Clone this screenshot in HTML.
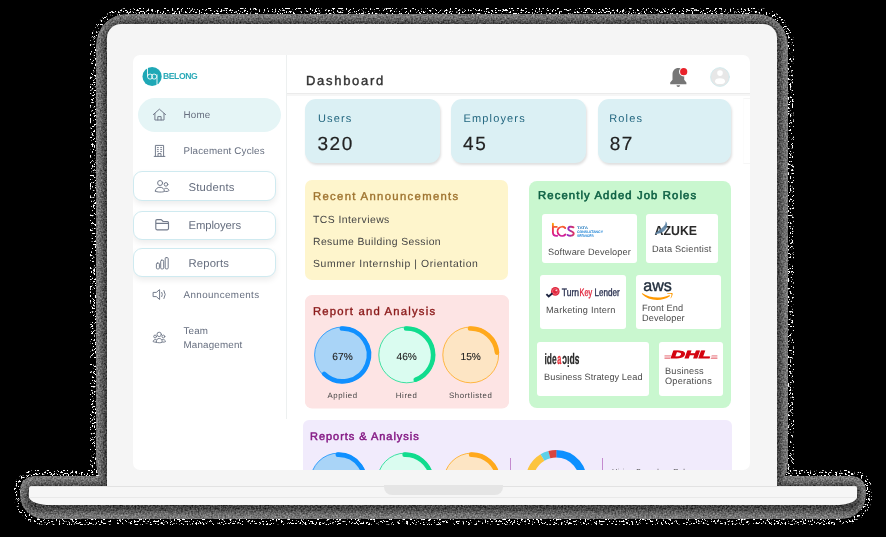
<!DOCTYPE html>
<html><head><meta charset="utf-8">
<style>
*{box-sizing:border-box;margin:0;padding:0}
html,body{width:886px;height:537px;background:#000;overflow:hidden;font-family:"Liberation Sans",sans-serif;}
.abs{position:absolute}
#stage{position:relative;width:886px;height:537px;overflow:hidden;background:#000}
#ringBody{left:90px;top:8px;width:704px;height:492px;border-radius:37px;border:6px solid #fff;filter:url(#spk)}
#ringBase{left:14px;top:470px;width:858px;height:55px;border-radius:20px 20px 30px 30px;border:6px solid #fff;filter:url(#spk)}
#body{left:107px;top:24px;width:670px;height:463px;border-radius:14px 14px 0 0;background:#f5f5f5}
#base{left:29px;top:485.5px;width:828px;height:19.3px;background:#f6f6f6;border-radius:2px 2px 22px 22px / 2px 2px 8px 8px;border-top:1px solid #e2e2e2}
#baseLine{left:29px;top:497px;width:828px;height:1px;background:#e9e9e9}
#notch{left:383.5px;top:485px;width:119px;height:10px;background:#e5e5e5;border-radius:0 0 8px 8px}
#screen{left:133px;top:55px;width:617px;height:415px;border-radius:7px;background:#fff;overflow:hidden}
/* inside screen coords: subtract 133,55 */
.t{position:absolute;white-space:nowrap;line-height:1;margin-top:.7px}

#pg{position:absolute;left:-133px;top:-55px;width:886px;height:537px;will-change:transform;text-rendering:geometricPrecision}

.side{font-size:9.8px;letter-spacing:.18px;color:#666e7f}
.nb{position:absolute;left:133px;width:143px;height:29px;border:1px solid #cfeaf0;border-radius:9px;background:#fff;box-shadow:0 3px 6px rgba(0,0,0,.08)}
.stat{position:absolute;top:99px;height:64px;border-radius:11px;background:#dbf0f4;box-shadow:1px 2px 2.5px rgba(0,0,0,.13)}
.stat .l{margin-top:0;position:absolute;left:12.5px;top:15px;font-size:11px;letter-spacing:1.15px;color:#22667f;line-height:1}
.stat .n{margin-top:.3px;position:absolute;left:12px;top:36px;font-size:19px;letter-spacing:1.6px;color:#222;line-height:1;-webkit-text-stroke:.2px #222}
.h{font-size:11.3px;letter-spacing:1.33px;-webkit-text-stroke:.38px currentColor}
.it{font-size:10.4px;letter-spacing:.45px;color:#444}
.jc{position:absolute;background:#fff;border-radius:3px}
.jt{margin-top:-.1px;font-size:9.2px;letter-spacing:.2px;color:#4a4a4a;line-height:10px}
.pc{font-size:10.2px;color:#222;-webkit-text-stroke:.1px #222}
.pl{margin-top:.15px;font-size:7.8px;letter-spacing:.6px;color:#444}
</style></head><body>
<div id="stage">
<svg width="0" height="0" style="position:absolute"><defs>
<filter id="spk" x="0" y="0" width="100%" height="100%" color-interpolation-filters="sRGB"><feTurbulence type="fractalNoise" baseFrequency="0.55" numOctaves="2" seed="7" result="n"/><feColorMatrix in="n" type="matrix" values="0 0 0 0 1  0 0 0 0 1  0 0 0 0 1  0 0 0 14 -8.2" result="t"/><feComposite in="t" in2="SourceGraphic" operator="in"/></filter>
<filter id="grn" x="0" y="0" width="100%" height="100%" color-interpolation-filters="sRGB"><feTurbulence type="fractalNoise" baseFrequency="0.6" numOctaves="2" seed="11" result="n"/><feColorMatrix in="n" type="matrix" values="0 0 0 1 0  0 0 0 1 0  0 0 0 1 0  0 0 0 0 1" result="g"/><feComposite in="SourceGraphic" in2="g" operator="arithmetic" k1="0" k2="1" k3=".55" k4="-.275" result="m"/><feComposite in="m" in2="SourceGraphic" operator="in"/></filter>
</defs></svg>

<div id="ringBody" class="abs"></div>
<div id="ringBase" class="abs"></div>
<svg class="abs" style="left:0;top:0" width="886" height="537" viewBox="0 0 886 537">
<defs><clipPath id="cu"><rect x="96" y="14" width="692" height="480" rx="31"/><path d="M34 476H852A14 14 0 0 1 866 490V495A24 24 0 0 1 842 519H44A24 24 0 0 1 20 495V490A14 14 0 0 1 34 476Z"/></clipPath>
<filter id="bl" x="-5%" y="-5%" width="110%" height="110%"><feGaussianBlur stdDeviation="3"/></filter></defs>
<g filter="url(#grn)"><g clip-path="url(#cu)"><rect x="0" y="0" width="886" height="537" fill="#7c7c7c"/><g filter="url(#bl)" fill="#3e3e3e"><rect x="102" y="20" width="680" height="474" rx="22"/><rect x="25" y="483" width="836" height="29" rx="10"/></g></g></g>
</svg>
<div id="body" class="abs"></div>
<div id="base" class="abs"></div>
<div id="baseLine" class="abs"></div>
<div id="notch" class="abs"></div>
<div id="screen" class="abs">

<div id="pg">
<!-- sidebar border and header border -->
<div class="abs" style="left:286px;top:55px;width:1px;height:364px;background:#edf0f0"></div>
<div class="abs" style="left:287px;top:93px;width:463px;height:1px;background:#ebebeb"></div>
<div class="abs" style="left:287px;top:94px;width:463px;height:2px;background:#f6f6f6"></div>
<div class="abs" style="left:743px;top:98px;width:8px;height:66px;border:1px solid #f6f6f6;border-left-color:#fcfcfc;border-right:0"></div>
<!-- logo -->
<svg class="abs" style="left:142px;top:66px" width="22" height="22" viewBox="0 0 22 22"><circle cx="10.1" cy="10.5" r="9.6" fill="#1fa8b6"/><g fill="none" stroke="#fff" stroke-width=".9" stroke-opacity=".95"><path d="M5.5 1.8V10.6"/><circle cx="8.1" cy="10.6" r="2.55"/><circle cx="12.1" cy="10.6" r="2.55"/><path d="M15 8.4V19"/></g></svg>
<div class="t" style="margin-top:0;left:163px;top:72.4px;font-size:8.6px;font-weight:bold;color:#2aa9b7;letter-spacing:-.42px">BELONG</div>
<!-- home pill -->
<div class="abs" style="left:138px;top:98px;width:143px;height:34px;border-radius:17px;background:#e5f5f6"></div>
<div class="t side" style="left:183.5px;top:110.6px">Home</div>
<div class="t side" style="left:183.5px;top:146.6px">Placement Cycles</div>
<div class="nb" style="top:171px;height:29.6px"></div>
<div class="nb" style="top:211px"></div>
<div class="nb" style="top:248px"></div>
<div class="t side" style="left:188.5px;top:182px;font-size:11.3px;letter-spacing:.2px">Students</div>
<div class="t side" style="left:188.5px;top:220px;font-size:11.3px;letter-spacing:-.1px">Employers</div>
<div class="t side" style="left:188.5px;top:258px;font-size:11.3px;letter-spacing:.15px">Reports</div>
<div class="t side" style="left:183.5px;top:290.8px;letter-spacing:.4px">Announcements</div>
<div class="t side" style="left:183.5px;top:324.5px;line-height:14.3px">Team<br>Management</div>

<svg class="abs" style="left:0;top:0" width="886" height="537" viewBox="0 0 886 537" fill="none" stroke="#737b8b" stroke-width="1" stroke-linecap="round" stroke-linejoin="round">
<!-- home -->
<path d="M153.3 114.6L159.4 109.2L165.6 114.6M154.9 113.4V120H164V113.4M157.8 120V116.6H161.1V120"/>
<!-- building -->
<path d="M155.4 156.4V145.4H163.6V156.4M154.2 156.4H164.9M158 156.4V153.6H161V156.4" />
<path d="M157.3 147.6H158.4M160.6 147.6H161.7M157.3 149.6H158.4M160.6 149.6H161.7M157.3 151.6H158.4M160.6 151.6H161.7" stroke-width=".9"/>
<!-- students -->
<circle cx="160.1" cy="183" r="2.5"/><path d="M155.4 191.2C155.4 188.8 157.4 187.3 160 187.3C162.5 187.3 164.3 188.8 164.3 191.2C164.3 192.4 155.4 192.4 155.4 191.2Z"/>
<circle cx="166" cy="184.4" r="1.8"/><path d="M164.6 188.7C165.1 188.4 165.6 188.3 166.2 188.3C167.8 188.3 168.8 189.4 168.8 190.7C168.8 191.5 166 191.6 164.6 191.4"/>
<!-- folder -->
<path d="M155.8 228.6V220.8Q155.8 219.6 157 219.6H161.2L163.2 221.5H167.4Q168.5 221.5 168.5 222.7V228.6Q168.5 229.8 167.3 229.8H157Q155.8 229.8 155.8 228.6ZM155.8 223.3H168.5" stroke-width="1.15"/>
<!-- bars -->
<rect x="156.4" y="263.1" width="3" height="5.8" rx="1"/><rect x="160.7" y="260.2" width="3" height="8.7" rx="1"/><rect x="165.2" y="257.6" width="3" height="11.3" rx="1"/>
<!-- speaker -->
<path d="M153.5 292.4H156.3L159.6 289.6V299.5L156.3 296.6H153.5Z"/><path d="M161.8 292.4Q163 294.5 161.8 296.6M164 290.6Q166.6 294.5 164 298.5" stroke-width="1"/>
<!-- team -->
<g stroke-width=".95"><circle cx="159.2" cy="334.4" r="2.2"/><circle cx="155.1" cy="336.5" r="1.4"/><circle cx="163.4" cy="336.5" r="1.4"/>
<path d="M156.3 342.2C156.3 339.6 157.6 338.4 159.2 338.4C160.9 338.4 162.2 339.6 162.2 342.2C161 343 157.5 343 156.3 342.2Z"/>
<path d="M156.2 339.6C154.4 339.3 153.1 340.2 153.1 341.6C153.8 342 154.8 342.2 155.8 342.2M162.3 339.6C164.1 339.3 165.5 340.2 165.5 341.6C164.8 342 163.8 342.2 162.8 342.2"/></g>

<!-- bell -->
<g stroke="none">
<path d="M678.3 68.1C675 68.1 672.5 70.8 672.5 74.5V79.8L670.2 82.6V84.2H686.4V82.6L684.2 79.8V74.5C684.2 70.8 681.6 68.1 678.3 68.1Z" fill="#767676"/>
<path d="M676.5 85.3H680.1A1.8 1.8 0 0 1 676.5 85.3Z" fill="#767676"/>
<circle cx="683.7" cy="71.7" r="4.7" fill="#fff"/>
<circle cx="683.7" cy="71.7" r="3.6" fill="#e8222a"/>
<circle cx="720" cy="77" r="9.4" fill="#e7e7e7" stroke="#cdeaee" stroke-width=".8"/>
<circle cx="720" cy="73.1" r="2.8" fill="#fff"/>
<ellipse cx="720" cy="81.2" rx="5" ry="2.9" fill="#fff"/>
</g>
</svg>

<!-- header -->
<div class="t" style="margin-top:0;left:306px;top:74px;font-size:13px;-webkit-text-stroke:.4px #333;letter-spacing:1.7px;color:#333">Dashboard</div>
<!-- stats -->
<div class="stat" style="left:305.4px;width:134.2px"><div class="l">Users</div><div class="n">320</div></div>
<div class="stat" style="left:451px;width:135px"><div class="l">Employers</div><div class="n">45</div></div>
<div class="stat" style="left:597.7px;width:133.5px"><div class="l" style="left:11.5px">Roles</div><div class="n">87</div></div>
<!-- announcements -->
<div class="abs" style="left:305px;top:180px;width:203px;height:100px;border-radius:7px;background:#fef5cc"></div>
<div class="t h" style="left:313px;top:191px;color:#9f7430">Recent Announcements</div>
<div class="t it" style="left:313px;top:215.1px;letter-spacing:.45px">TCS Interviews</div>
<div class="t it" style="left:313px;top:237.2px;letter-spacing:.42px">Resume Building Session</div>
<div class="t it" style="left:313px;top:259.2px;letter-spacing:.59px">Summer Internship | Orientation</div>
<!-- report -->
<div class="abs" style="left:305px;top:295px;width:204px;height:113px;box-shadow:0 .6px 0 #fde4e4;border-radius:7px;background:#fde4e4"></div>
<div class="t h" style="left:313px;top:306px;color:#8b1a1a;letter-spacing:1.2px">Report and Analysis</div>
<svg class="abs" style="left:0;top:0" width="886" height="537" viewBox="0 0 886 537">
<circle cx="342.5" cy="354.9" r="27.9" fill="#a9d4f7" stroke="#1090ff" stroke-width=".8"/><path d="M341.81 328.51A26.4 26.4 0 1 1 324.16 373.89" fill="none" stroke="#1090ff" stroke-width="4.6" stroke-linecap="round"/>
<circle cx="406.7" cy="354.9" r="27.9" fill="#dafcf0" stroke="#10dc8e" stroke-width=".8"/><path d="M406.01 328.51A26.4 26.4 0 0 1 415.73 379.71" fill="none" stroke="#10dc8e" stroke-width="4.6" stroke-linecap="round"/>
<circle cx="470.7" cy="354.9" r="27.9" fill="#fde5c4" stroke="#ffa91c" stroke-width=".8"/><path d="M470.01 328.51A26.4 26.4 0 0 1 497.00 352.60" fill="none" stroke="#ffa91c" stroke-width="4.6" stroke-linecap="round"/>
</svg>
<div class="t pc" style="left:312.5px;width:60px;text-align:center;top:352px">67%</div>
<div class="t pl" style="left:302.5px;width:80px;text-align:center;top:392px">Applied</div>
<div class="t pc" style="left:376.7px;width:60px;text-align:center;top:352px">46%</div>
<div class="t pl" style="left:366.7px;width:80px;text-align:center;top:392px">Hired</div>
<div class="t pc" style="left:440.7px;width:60px;text-align:center;top:352px">15%</div>
<div class="t pl" style="left:430.7px;width:80px;text-align:center;top:392px">Shortlisted</div>
<!-- green -->
<div class="abs" style="left:529.4px;top:180.6px;width:201.8px;height:227.4px;border-radius:8px;background:#c9f7cf"></div>
<div class="t h" style="left:538px;top:190.5px;color:#0e6144;letter-spacing:1.11px;-webkit-text-stroke-width:.55px">Recently Added Job Roles</div>
<div class="jc" style="left:542px;top:214.4px;width:95.3px;height:49px"></div>
<div class="jc" style="left:646.3px;top:214.4px;width:72.1px;height:49px"></div>
<div class="jc" style="left:540px;top:275px;width:86px;height:54px"></div>
<div class="jc" style="left:636px;top:275px;width:85px;height:54px"></div>
<div class="jc" style="left:537px;top:342px;width:112px;height:53.5px"></div>
<div class="jc" style="left:659px;top:342px;width:64px;height:53.5px"></div>
<div class="t jt" style="left:548px;top:247px;letter-spacing:.13px">Software Developer</div>
<div class="t jt" style="left:652px;top:244px">Data Scientist</div>
<div class="t jt" style="left:546px;top:305.5px">Marketing Intern</div>
<div class="t jt" style="left:642px;top:303px;letter-spacing:.1px">Front End<br>Developer</div>
<div class="t jt" style="left:544px;top:372px;letter-spacing:.07px">Business Strategy Lead</div>
<div class="t jt" style="left:665px;top:366px">Business<br>Operations</div>

<svg class="abs" style="left:0;top:0" width="886" height="537" viewBox="0 0 886 537" font-family="Liberation Sans, sans-serif">
<defs>
<linearGradient id="tg" x1="0" y1="223" x2="0" y2="237" gradientUnits="userSpaceOnUse"><stop offset="0" stop-color="#ffb200"/><stop offset=".35" stop-color="#f4453a"/><stop offset=".7" stop-color="#e0207a"/><stop offset="1" stop-color="#c81fa8"/></linearGradient>
<linearGradient id="tg2" x1="563" y1="0" x2="575" y2="0" gradientUnits="userSpaceOnUse"><stop offset="0" stop-color="#e8306a"/><stop offset=".4" stop-color="#8a2bc8"/><stop offset="1" stop-color="#f0364c"/></linearGradient>
</defs>
<!-- tcs -->
<g fill="none" stroke-width="1.85" stroke-linecap="round">
<path d="M552.9 223.6V232.2Q552.9 235.8 556.6 235.8H557.2M552.9 226.9H556.8" stroke="url(#tg)"/>
<path d="M565.2 228A4.55 4.55 0 1 0 565.4 234.5" stroke="url(#tg)"/>
<path d="M573.5 227.4C571.8 226.4 568.3 226.3 568.3 228.8C568.3 231.6 573.7 230.7 573.7 233.5C573.7 236.2 569.4 236.2 567.6 234.9" stroke="url(#tg2)"/>
</g>
<text x="577" y="228.7" font-size="3.7" font-weight="bold" fill="#1b75bb" textLength="11" lengthAdjust="spacingAndGlyphs">TATA</text>
<text x="577" y="233" font-size="3.4" fill="#2386d6" stroke="#2386d6" stroke-width=".12" textLength="26" lengthAdjust="spacingAndGlyphs">CONSULTANCY</text>
<text x="577" y="237.1" font-size="3.4" fill="#2386d6" stroke="#2386d6" stroke-width=".12" textLength="16.6" lengthAdjust="spacingAndGlyphs">SERVICES</text>
<!-- azuke -->
<text x="654.6" y="235.4" font-size="13" font-weight="bold" fill="#2b2b2b" textLength="42.4" lengthAdjust="spacingAndGlyphs">AZUKE</text>
<path d="M654.8 234.5C656.4 231.4 661.2 229.6 664.2 225.8C665.4 224.3 665.8 222.6 665.6 221.2C667.6 222.8 667.6 226 666.2 228.4C664.6 231.2 662.6 232 660.4 233C658.6 233.8 656.6 234 654.8 234.5Z" fill="#5f86a6" fill-opacity=".92"/>
<!-- turnkey -->
<circle cx="555.3" cy="291.4" r="4.3" fill="#e0263c"/><circle cx="555.3" cy="291.4" r="2.8" fill="none" stroke="#f58a98" stroke-width=".6"/><circle cx="556.3" cy="290.3" r=".9" fill="#fbd0d6"/>
<path d="M546.4 294.2L548.7 296.5L552.4 293.2" fill="none" stroke="#1c2340" stroke-width="1.9"/>
<text y="296.1" font-size="10.8" fill="#2a3150" stroke="#2a3150" stroke-width=".35"><tspan x="561.8" textLength="17.3" lengthAdjust="spacingAndGlyphs">Turn</tspan><tspan x="579.6" fill="#e0263c" stroke="#e0263c" textLength="12.6" lengthAdjust="spacingAndGlyphs">Key</tspan><tspan x="594.6" textLength="25.2" lengthAdjust="spacingAndGlyphs">Lender</tspan></text>
<!-- aws -->
<text x="643.3" y="290.9" font-size="16.3" fill="#232f3e" stroke="#232f3e" stroke-width=".4" textLength="28.6" lengthAdjust="spacingAndGlyphs">aws</text>
<path d="M642.4 293.2C649 297.6 660 299.2 669.2 295.2C669.8 295 670.3 295.8 669.8 296.2C661 302.2 648 300.6 642 294C641.7 293.5 642 293 642.4 293.2Z" fill="#ff9900"/>
<path d="M667.4 293.3C669 292.9 671.6 292.8 672.6 293.2C673 294.2 672 296.8 670.9 298.2C670.6 298.5 670.3 298.3 670.5 298C671.1 296.6 671.8 294.8 671.5 294.2C670.9 293.8 669 293.8 667.5 293.9C667.1 293.9 667 293.5 667.4 293.3Z" fill="#ff9900"/>
<!-- ideaspice -->
<g font-size="15" font-weight="bold" fill="#2a2a2a" stroke="#2a2a2a" stroke-width=".25">
<text x="544.5" y="363.7" textLength="12.2" lengthAdjust="spacingAndGlyphs">ide</text>
<text x="557.2" y="363.7" fill="#e8232d" stroke="#e8232d" textLength="4" lengthAdjust="spacingAndGlyphs">a</text>
<text x="562.3" y="363.7" textLength="17.1" lengthAdjust="spacingAndGlyphs" transform="rotate(180 570.85 359.75)">spic</text>
</g>
<!-- dhl -->
<text x="671" y="358.4" font-size="10.5" font-weight="bold" font-style="italic" fill="#d40511" stroke="#d40511" stroke-width=".8" textLength="39.6" lengthAdjust="spacingAndGlyphs">DHL</text>
<g fill="#e8737c"><rect x="664.5" y="355.4" width="6.5" height=".8"/><rect x="664.5" y="356.7" width="6" height=".8"/><rect x="664.5" y="358" width="5.6" height=".8"/>
<rect x="711.6" y="355.4" width="5.8" height=".8"/><rect x="711.2" y="356.7" width="6.2" height=".8"/><rect x="710.8" y="358" width="6.6" height=".8"/></g>
</svg>
<!-- purple -->
<div class="abs" style="left:303px;top:420px;width:429px;height:60px;border-radius:6px;background:#f1ebfc"></div>
<div class="t h" style="left:310px;top:431px;color:#861c86;font-size:11px;letter-spacing:.96px;-webkit-text-stroke-width:.5px">Reports &amp; Analysis</div>
<svg class="abs" style="left:0;top:0" width="886" height="537" viewBox="0 0 886 537">
<circle cx="338.5" cy="481" r="27.9" fill="#a9d4f7" stroke="#1090ff" stroke-width=".8"/><path d="M337.81 454.61A26.4 26.4 0 1 1 320.16 499.99" fill="none" stroke="#1090ff" stroke-width="4.6" stroke-linecap="round"/>
<circle cx="405.3" cy="481" r="27.9" fill="#dafcf0" stroke="#10dc8e" stroke-width=".8"/><path d="M404.61 454.61A26.4 26.4 0 0 1 414.33 505.81" fill="none" stroke="#10dc8e" stroke-width="4.6" stroke-linecap="round"/>
<circle cx="471.8" cy="481" r="27.9" fill="#fde5c4" stroke="#ffa91c" stroke-width=".8"/><path d="M471.11 454.61A26.4 26.4 0 0 1 498.10 478.70" fill="none" stroke="#ffa91c" stroke-width="4.6" stroke-linecap="round"/>
<path d="M556.20 453.70A26.9 26.9 0 0 1 582.69 485.27" fill="none" stroke="#0d90ff" stroke-width="7.6"/><path d="M529.71 485.27A26.9 26.9 0 0 1 542.51 457.45" fill="none" stroke="#fcc43e" stroke-width="7.6"/><path d="M542.51 457.45A26.9 26.9 0 0 1 549.33 454.59" fill="none" stroke="#5dd0e8" stroke-width="7.6"/><path d="M549.33 454.59A26.9 26.9 0 0 1 556.34 453.70" fill="none" stroke="#d9453f" stroke-width="7.6"/>
</svg>
<div class="abs" style="left:510px;top:458px;width:1px;height:20px;background:#c48acf"></div>
<div class="abs" style="left:602px;top:458px;width:1px;height:20px;background:#c48acf"></div>
<div class="t" style="left:612px;top:467px;font-size:7.3px;letter-spacing:.45px;color:#555">Hiring Based on Roles</div>
</div>

</div>
</div>
</body></html>
